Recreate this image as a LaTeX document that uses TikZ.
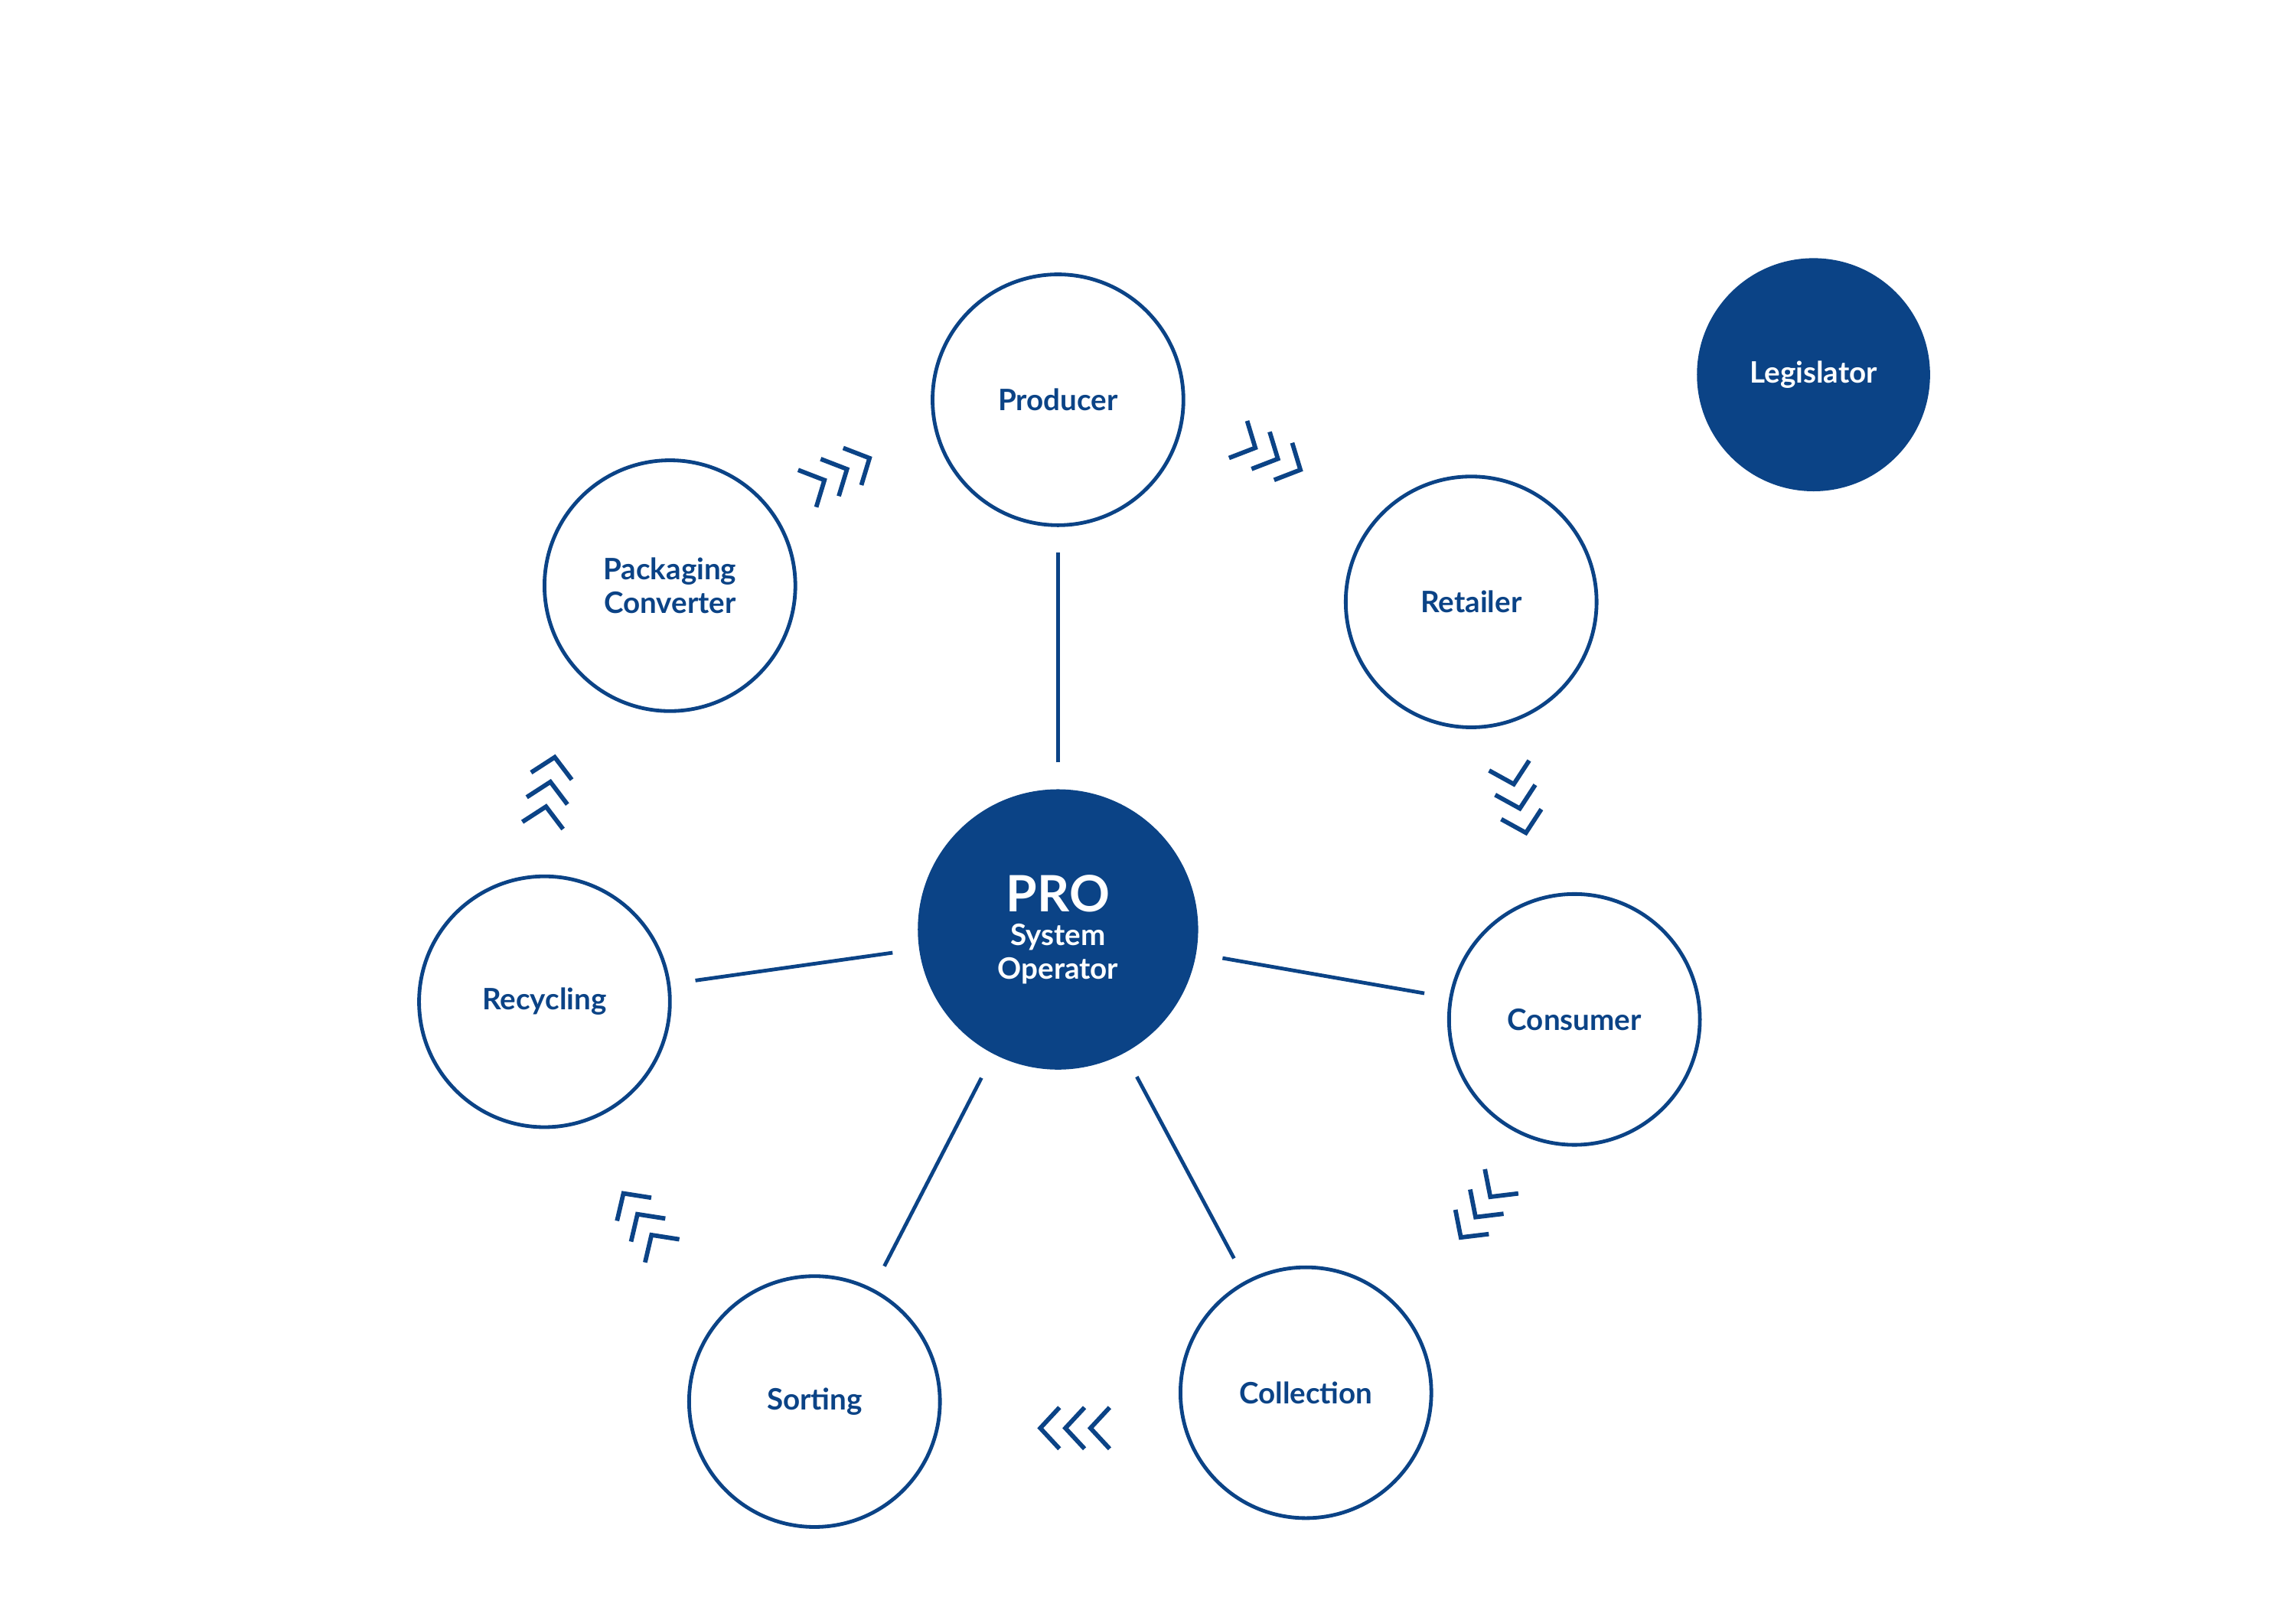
\documentclass[tikz,border=0pt]{standalone}
\usepackage{fontspec}
\setmainfont{Lato}
\definecolor{navy}{HTML}{0B4386}
\begin{document}
\begin{tikzpicture}[x=1pt,y=1pt,
  ring/.style={circle,draw=navy,line width=2.5pt,minimum size=170pt,inner sep=0pt,align=center,text=navy,font=\fontsize{20}{23}\selectfont\bfseries},
  solid/.style={circle,fill=navy,minimum size=158pt,inner sep=0pt,align=center,text=white,font=\fontsize{20}{23}\selectfont\bfseries},
  link/.style={draw=navy,line width=2.5pt,shorten >=17pt,shorten <=18pt},
  chev/.pic={\foreach \i in {-17,0,17}{\draw[navy,line width=3pt] ([xshift=\i pt]-13,14)--([xshift=\i pt]0,0)--([xshift=\i pt]-13,-14);}}]
\useasboundingbox (0,0) rectangle (1556,1100);
\node[ring] (prod) at (717,829) {Producer};
\node[ring] (pack) at (454,703) {Packaging\\Converter};
\node[ring] (ret) at (997,692) {Retailer};
\node[solid] (leg) at (1229,846) {Legislator};
\node[solid,minimum size=190pt] (pro) at (717,470) {{\fontsize{34}{36}\selectfont PRO}\\System\\Operator};
\node[ring] (rec) at (369,421) {Recycling};
\node[ring] (con) at (1067,409) {Consumer};
\node[ring] (sor) at (552,150) {Sorting};
\node[ring] (col) at (885,156) {Collection};
\foreach \n in {prod,rec,con,sor,col} \draw[link] (pro) -- (\n);
\pic[rotate=26] at (574,782) {chev};
\pic[rotate=-26] at (866,789) {chev};
\pic[rotate=-76] at (1030,552) {chev};
\pic[rotate=-126] at (1000,275) {chev};
\pic[rotate=180] at (722,132) {chev};
\pic[rotate=124] at (432,277) {chev};
\pic[rotate=80] at (373,570) {chev};
\end{tikzpicture}
\end{document}
